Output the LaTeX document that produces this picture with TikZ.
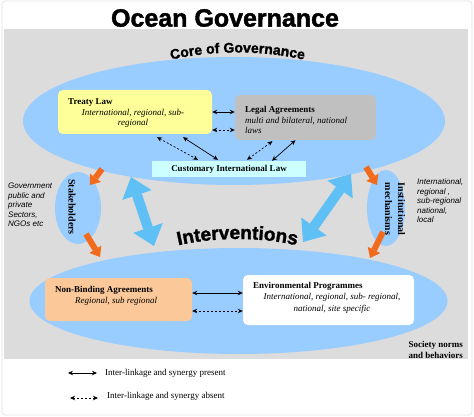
\documentclass[tikz,border=0pt]{standalone}
\usepackage{fontspec}
\setmainfont{Liberation Serif}
\setsansfont{Liberation Sans}
\newfontfamily\heavyfont[BoldFeatures={FakeBold=1.6}]{Liberation Sans}
\usetikzlibrary{arrows.meta,decorations.text,calc}

\definecolor{bggray}{HTML}{DCDCDC}
\definecolor{oceanblue}{HTML}{99CCFF}
\definecolor{skyarrow}{HTML}{5FC0F5}
\definecolor{orangearrow}{HTML}{F26B1D}
\definecolor{treatyyellow}{HTML}{FFFF99}
\definecolor{legalgray}{HTML}{C0C0C0}
\definecolor{custcyan}{HTML}{CCFFFF}
\definecolor{peach}{HTML}{FBC999}

\begin{document}
\begin{tikzpicture}[x=1pt,y=-1pt,
  box/.style={rounded corners=5pt, inner sep=0pt, draw=none},
  bold9/.style={font=\fontsize{9}{10}\selectfont\bfseries, inner sep=0pt, anchor=base west},
  ital9/.style={font=\fontsize{9}{10}\selectfont\itshape, inner sep=0pt},
  sidenote/.style={font=\sffamily\itshape\fontsize{8}{9.5}\selectfont, align=left, inner sep=0pt, anchor=west},
  link/.style={line width=0.7pt, {Stealth[length=5pt,width=4.5pt]}-{Stealth[length=5pt,width=4.5pt]}},
  nolink/.style={link, dash pattern=on 2pt off 2pt},
  bigarrow/.style={skyarrow, line width=10pt, {Triangle[length=19pt,width=31pt,line width=0pt]}-{Triangle[length=19pt,width=31pt,line width=0pt]}},
  orangearr/.style={orangearrow, line width=6pt, -{Triangle[length=9pt,width=14pt,line width=0pt]}},
  rottext/.style={font=\fontsize{10}{13}\selectfont\bfseries, rotate=-90, align=center, inner sep=0pt},
]
\useasboundingbox (0,0) rectangle (474,417);
\draw[gray!25, line width=0.6pt, rounded corners=3pt] (2,1) rectangle (472,415);

% title
\node[font=\heavyfont\bfseries\fontsize{25}{25}\selectfont, inner sep=0pt] (title) at (225,18) {Ocean Governance};

% background
\fill[bggray] (4,29) rectangle (468,359);

% big ellipses
\fill[oceanblue] (234,121) ellipse [x radius=211pt, y radius=64pt];
\fill[oceanblue] (238.5,301) ellipse [x radius=209pt, y radius=53pt];

% side ellipses
\fill[oceanblue] (78,208) ellipse [x radius=23pt, y radius=36pt];
\fill[oceanblue] (386,208) ellipse [x radius=19pt, y radius=38pt];

% curved titles
\path[decorate, decoration={text along path, text align=center,
  text={|\heavyfont\bfseries\fontsize{14}{14}\selectfont|Core of Governance}}]
  (150,66) .. controls (200,48) and (275,48) .. (325,66);
\path[decorate, decoration={text along path, text align=center,
  text={|\heavyfont\bfseries\fontsize{19}{19}\selectfont|Interventions}}]
  (158,251) .. controls (205,235) and (270,235) .. (317,251);

% big blue double arrows
\coordinate (bla) at (131,177);
\coordinate (blb) at (154,246);
\coordinate (bra) at (351,174);
\coordinate (brb) at (303,242);
\draw[bigarrow] (bla) -- (blb);
\draw[bigarrow] (bra) -- (brb);

% orange arrows
\coordinate (o1a) at (102,169);
\coordinate (o1b) at (90,185);
\coordinate (o2a) at (86,234);
\coordinate (o2b) at (100,257);
\coordinate (o3a) at (366,167);
\coordinate (o3b) at (377,185);
\coordinate (o4a) at (383,232);
\coordinate (o4b) at (370,258);
\draw[orangearr] (o1a) -- (o1b);
\draw[orangearr] (o2a) -- (o2b);
\draw[orangearr] (o3a) -- (o3b);
\draw[orangearr] (o4a) -- (o4b);

% boxes
\node[box, fill=treatyyellow, minimum width=154pt, minimum height=44pt] (treaty) at (135,112) {};
\node[box, fill=legalgray, minimum width=141pt, minimum height=45pt] (legal) at (305.5,117.5) {};
\node[fill=custcyan, inner sep=0pt, minimum width=154pt, minimum height=16pt,
  font=\fontsize{9}{10}\selectfont\bfseries] (cust) at (229,169) {Customary International Law};
\node[box, fill=peach, minimum width=147pt, minimum height=43pt] (nonbind) at (118.5,299.5) {};
\node[box, fill=white, minimum width=171pt, minimum height=50pt] (env) at (328.5,300) {};

% box texts
\node[bold9] (treatyT) at (68,105) {Treaty Law};
\node[ital9, align=center] (treatyS) at (133,118) {International, regional, sub-\\regional};
\node[bold9] (legalT) at (245,113) {Legal Agreements};
\node[ital9, align=left, anchor=west] (legalS) at (245,125) {multi and bilateral, national\\laws};
\node[bold9] (nonbindT) at (55,292) {Non-Binding Agreements};
\node[ital9, anchor=base west] (nonbindS) at (75,303) {Regional, sub regional};
\node[bold9] (envT) at (253,288) {Environmental Programmes};
\node[ital9, align=center, font=\fontsize{9}{11.5}\selectfont\itshape] (envS) at (332,303.5) {International, regional, sub- regional,\\national, site specific};

% side labels
\node[rottext] (stake) at (72,207) {Stakeholders};
\node[rottext] (inst) at (395,209) {Institutional\\mechanisms};
\node[sidenote] (govt) at (8,205) {Government\\public and\\private\\Sectors,\\NGOs etc};
\node[sidenote] (levels) at (417,201) {International,\\regional ,\\sub-regional\\national,\\local};
\node[font=\fontsize{9}{11}\selectfont\bfseries, align=right, anchor=east, inner sep=0pt] (society) at (463,350) {Society norms\\and behaviors};

% link arrows
\draw[link] (treaty.east) -- (treaty.east -| legal.west);
\draw[nolink] ($(treaty.east)+(0,18)$) -- ($(treaty.east -| legal.west)+(0,18)$);
\draw[nolink] ($(treaty.south)+(22,3)$) -- ($(cust.north)+(-31,-1)$);
\draw[link] ($(treaty.south)+(48,3)$) -- ($(cust.north)+(-11,-1)$);
\draw[nolink] ($(legal.south)+(-33,1)$) -- ($(cust.north)+(18,-1)$);
\draw[link] ($(legal.south)+(-10,0)$) -- ($(cust.north)+(43,0)$);
\draw[link] ($(nonbind.east)+(0,-6.5)$) -- ($(nonbind.east -| env.west)+(0,-6.5)$);
\draw[nolink] ($(nonbind.east)+(0,11.5)$) -- ($(nonbind.east -| env.west)+(0,11.5)$);

% legend
\coordinate (lg1a) at (68,373);
\coordinate (lg1b) at (97,373);
\coordinate (lg2a) at (70,398);
\coordinate (lg2b) at (98,398);
\draw[link] (lg1a) -- (lg1b);
\draw[nolink] (lg2a) -- (lg2b);
\node[font=\fontsize{9}{10}\selectfont, anchor=west, inner sep=0pt] (leg1) at (105,373) {Inter-linkage and synergy present};
\node[font=\fontsize{9}{10}\selectfont, anchor=west, inner sep=0pt] (leg2) at (107,396) {Inter-linkage and synergy absent};
\end{tikzpicture}
\end{document}
